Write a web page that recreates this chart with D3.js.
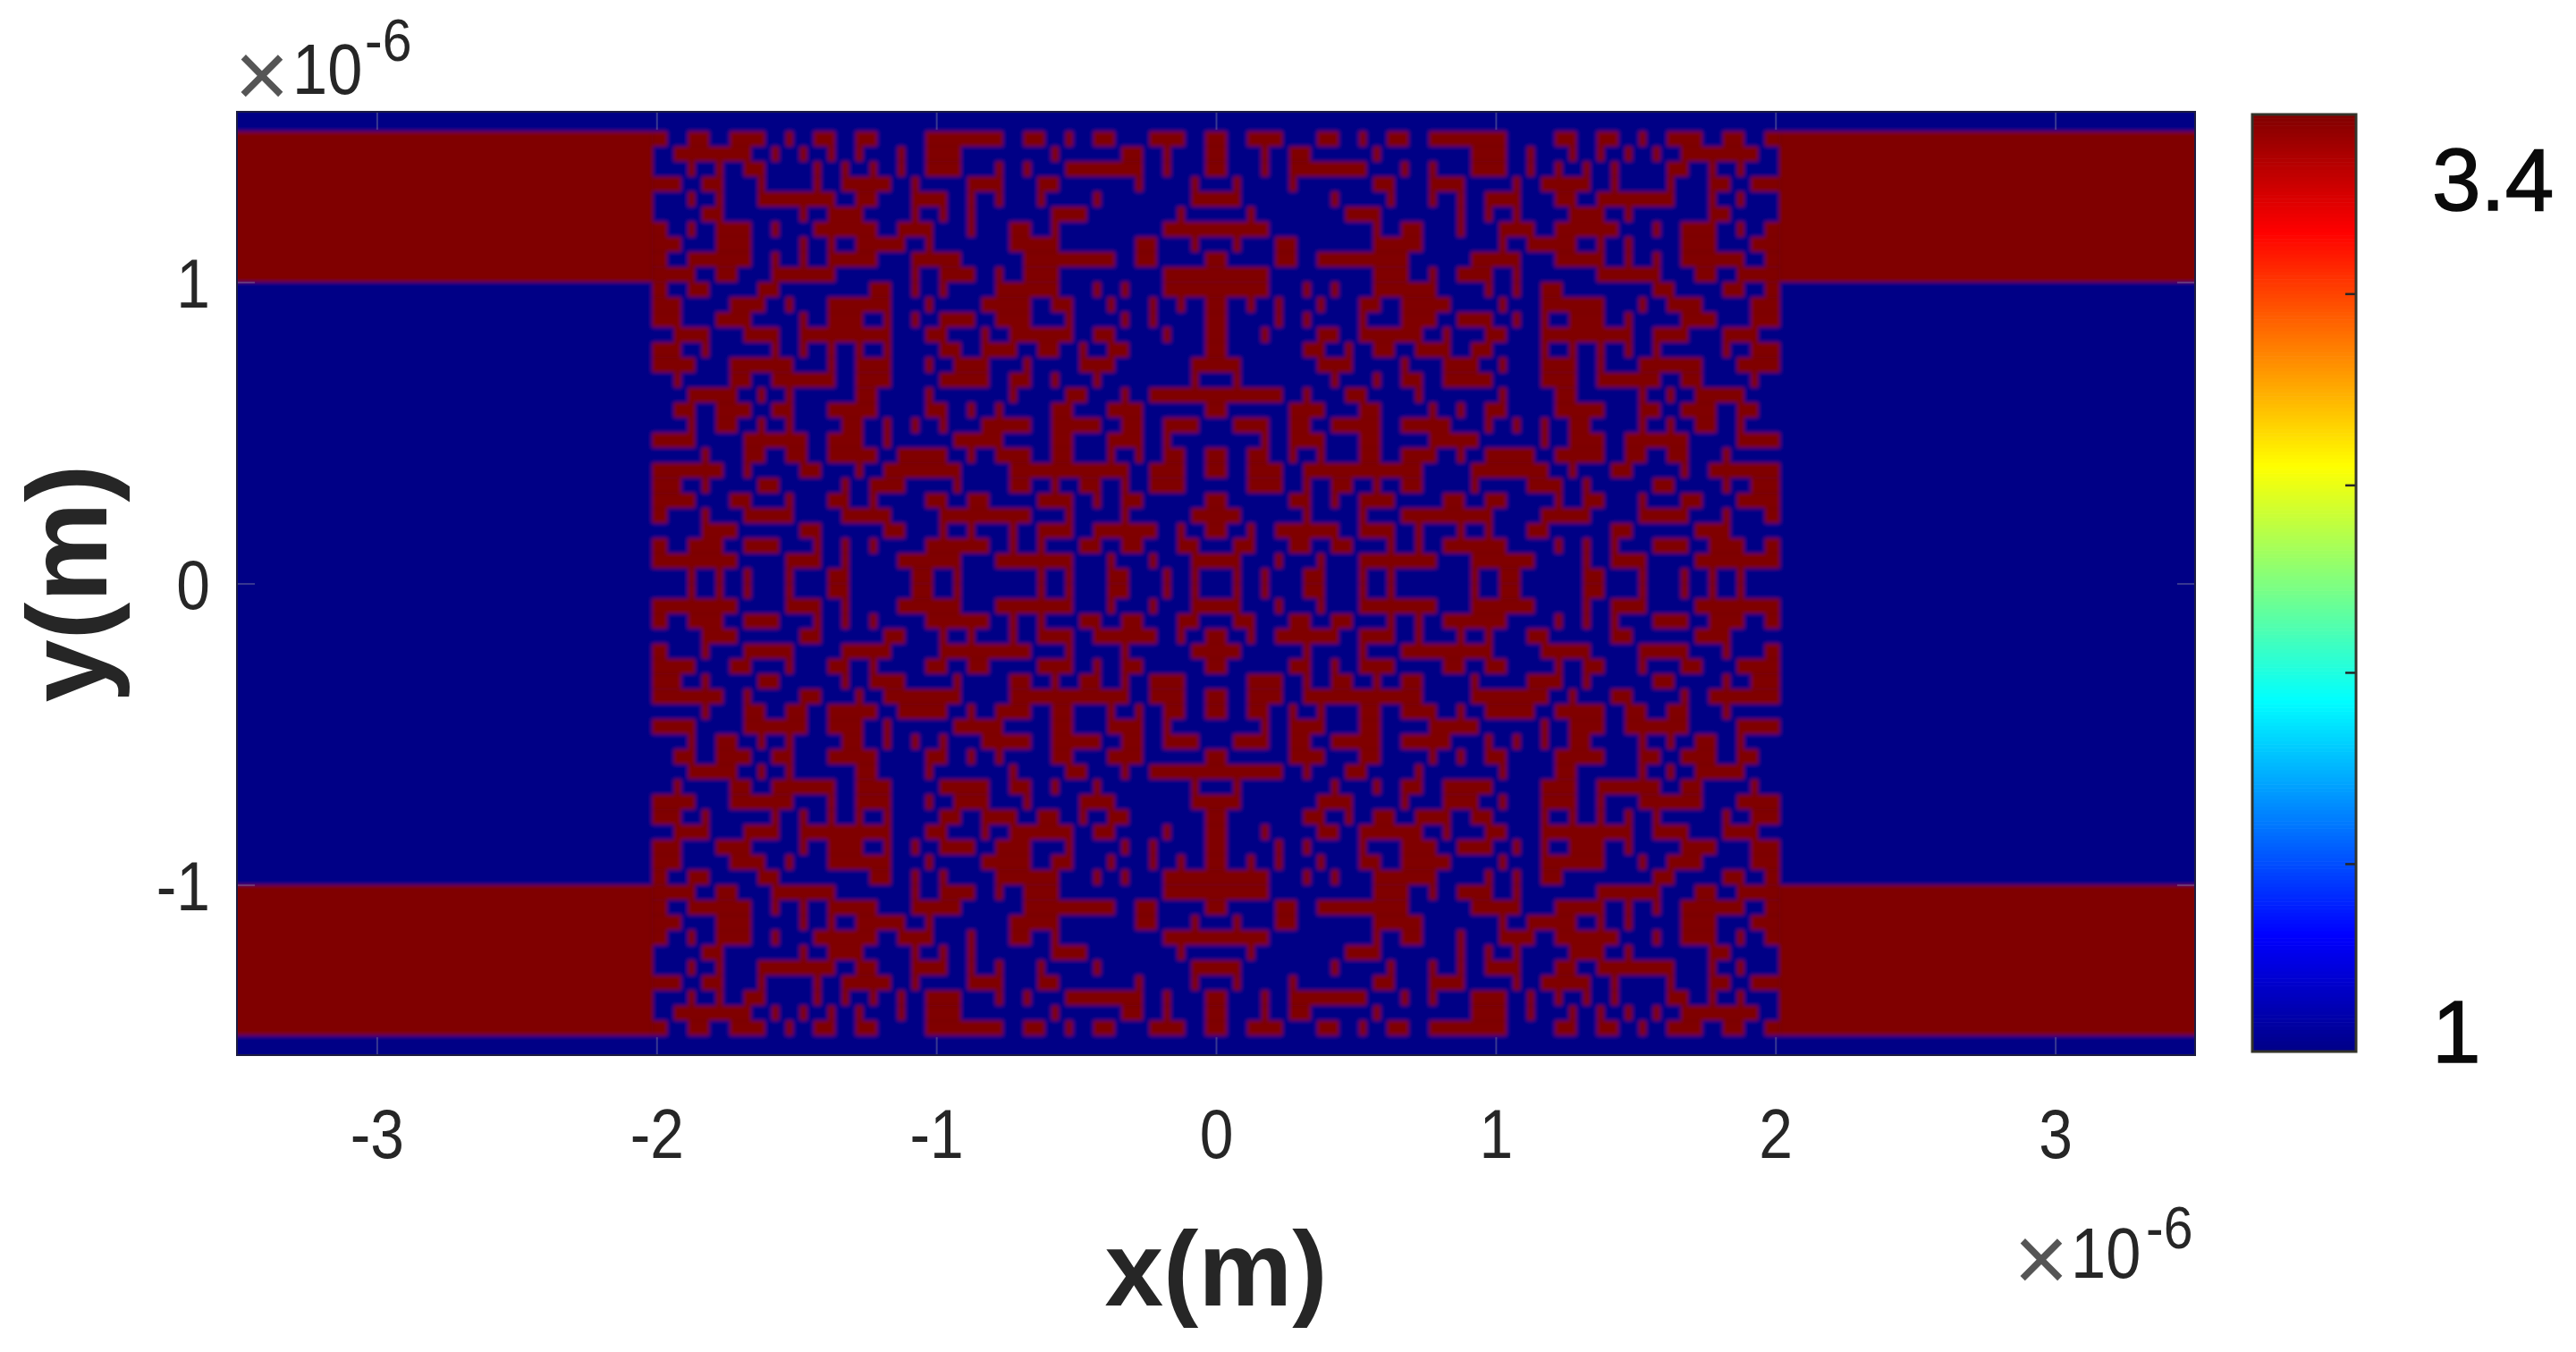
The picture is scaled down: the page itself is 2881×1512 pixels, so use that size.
<!DOCTYPE html>
<html>
<head>
<meta charset="utf-8">
<script src="https://cdnjs.cloudflare.com/ajax/libs/d3/7.8.5/d3.min.js"></script>
<style>
html,body{margin:0;padding:0;background:#fff;}
svg{display:block;}
text{font-family:"Liberation Sans",Arial,sans-serif;}
</style>
</head>
<body>
<svg id="chart" width="2881" height="1512"></svg>
<script>
// Upper-left quadrant of the symmetric pattern: for each 50 nm row (from y = 1.5 down to 0),
// the columns (0 = leftmost, 40 = just left of x = 0) where the index is high.
const highColumns = [
 [0,1,3,4,6,7,8,10,12,13,15,16,20,21,22,23,24,25,27,28,30,32,33,36,37,38,40],
 [0,2,3,4,5,6,7,9,11,13,15,18,20,21,22,29,34,35,37,40],
 [0,3,5,7,8,12,14,16,18,20,21,22,25,27,30,31,32,33,34,35,37,40],
 [0,1,2,4,5,8,12,14,15,16,17,19,23,24,25,28,29,35,39],
 [0,3,5,8,9,10,11,12,13,15,16,19,20,21,23,25,28,32,39,40],
 [0,4,5,11,13,14,15,19,21,23,29,30,31,38],
 [0,1,3,5,6,7,9,12,13,14,15,16,18,19,20,23,26,27,29,37,38,39,40],
 [0,1,2,5,6,7,11,13,15,16,17,18,20,26,27,28,29,35,36,39],
 [0,1,3,4,5,6,7,9,11,13,14,15,16,19,20,21,22,27,28,29,30,31,32,33,35,36,40],
 [0,1,2,3,5,6,9,10,11,12,13,19,21,22,23,25,27,28,29,37,38,39,40],
 [0,1,3,4,8,9,16,17,19,21,25,26,27,28,29,32,34,37,38,39,40],
 [0,1,2,6,7,8,10,13,14,15,16,17,20,24,25,26,27,29,30,33,36,38,40],
 [0,1,2,5,6,7,11,13,14,15,17,19,21,22,23,25,26,27,30,34,36,40],
 [2,3,4,7,8,9,11,12,13,14,15,16,17,20,21,24,26,27,28,29,30,32,33,37,40],
 [0,1,2,4,9,11,13,15,17,21,22,24,25,26,28,29,31,33,34,40],
 [0,1,2,3,6,7,8,9,10,13,15,16,17,20,22,23,24,27,31,32,33,39,40],
 [2,6,7,9,10,11,12,13,15,16,17,21,22,23,24,26,27,29,32,39],
 [3,4,5,6,8,10,15,16,20,26,30,31,34,36,37,38,39,40],
 [2,3,5,6,7,9,10,13,14,15,16,20,21,23,25,29,30,33,34,35,40],
 [3,5,6,8,10,14,15,17,19,21,24,25,26,27,29,30,31,32,34,35,37,38,39],
 [0,1,2,3,7,8,9,10,11,13,14,15,17,22,23,24,25,29,30,33,34,35,37],
 [4,7,8,10,11,13,14,15,16,18,19,20,21,23,25,26,27,29,30,33,35,37,38,40],
 [0,1,2,3,4,5,7,11,12,15,17,18,19,20,21,22,26,27,28,29,30,31,32,33,34,36,37,38,40],
 [0,1,2,4,8,9,14,16,17,18,22,26,27,29,31,32,34,36,37,38],
 [0,1,2,3,6,7,10,13,14,16,20,21,23,24,28,29,30,32,34,35,40],
 [0,1,4,7,8,9,10,14,15,16,17,21,22,23,24,25,26,27,30,34,39,40],
 [4,5,6,11,12,17,18,21,23,26,28,29,30,32,33,34,35,36,38,40],
 [0,1,3,4,5,7,8,9,12,14,16,20,21,22,23,24,26,28,31,32,34,35,38,39],
 [0,1,2,3,4,5,6,10,11,12,14,18,19,20,21,22,25,26,27,28,29,30,33,36,39,40],
 [3,5,7,10,13,14,19,20,22,28,30,33,34,37,39]
];
const lowIndex = 1;
const highIndex = 3.4;
const cellSize = 0.05;            // µm
const halfColumns = 41;
const patternEdge = 2.016;        // µm
const spotHalfWidth = 0.0135;     // µm
const barInner = 1;               // |y| of the waveguide bars, µm
const barOuter = 1.5;
const xLimit = 3.5;
const yLimit = 1.565;
const xTicks = [-3,-2,-1,0,1,2,3];
const yTicks = [-1,0,1];
const colorbarTicks = [1.48,1.97,2.45,2.94];
const colorbarLabels = [3.4,1];
const jetPositions = [0,.125,.375,.625,.875,1];
const jetColors = ["#000086","#0000ff","#00ffff","#ffff00","#ff0000","#800000"];

const svg = d3.select("#chart");
const X = d3.scaleLinear().domain([-xLimit,xLimit]).range([265,2455]);
const Y = d3.scaleLinear().domain([yLimit,-yLimit]).range([125,1180]);
const jet = d3.scaleLinear().domain(jetPositions).range(jetColors).interpolate(d3.interpolateRgb);
const color = d3.scaleLinear().domain([lowIndex,highIndex]).range([0,1]);
const indexColor = v => jet(color(v));
const CB = d3.scaleLinear().domain([lowIndex,highIndex]).range([1176,128]);

const defs = svg.append("defs");
defs.append("clipPath").attr("id","plotClip").append("rect")
  .attr("x",X(-xLimit)).attr("y",Y(yLimit)).attr("width",X(xLimit)-X(-xLimit)).attr("height",Y(-yLimit)-Y(yLimit));
const blur = defs.append("filter").attr("id","soft").attr("filterUnits","userSpaceOnUse")
  .attr("x",0).attr("y",0).attr("width",2881).attr("height",1512);
blur.append("feGaussianBlur").attr("stdDeviation",1.9);

// Build rectangles from the data
const runs = [];
highColumns.forEach((cols,r) => {
  const set = new Set(cols);
  const isHigh = i => set.has(i < halfColumns ? i : 2*halfColumns-1-i);
  let i = 0;
  while (i < 2*halfColumns) {
    if (isHigh(i)) {
      let j = i;
      while (j+1 < 2*halfColumns && isHigh(j+1)) j++;
      const centre = k => (k-(halfColumns-0.5))*cellSize;
      const x0 = Math.max(-patternEdge,centre(i)-spotHalfWidth);
      const x1 = Math.min(patternEdge,centre(j)+spotHalfWidth);
      if (x1 > x0) {
        [1,-1].forEach(s => {
          const ya = s*(barOuter-r*cellSize), yb = s*(barOuter-(r+1)*cellSize);
          runs.push({x0,x1,y0:Math.max(ya,yb),y1:Math.min(ya,yb)});
        });
      }
      i = j+1;
    } else i++;
  }
});
[[-xLimit-0.1,-patternEdge],[patternEdge,xLimit+0.1]].forEach(([x0,x1]) => {
  runs.push({x0,x1,y0:barOuter,y1:barInner});
  runs.push({x0,x1,y0:-barInner,y1:-barOuter});
});

const plot = svg.append("g").attr("clip-path","url(#plotClip)").append("g").attr("filter","url(#soft)");
plot.append("rect").attr("x",X(-xLimit)-40).attr("y",Y(yLimit)-10)
  .attr("width",X(xLimit)-X(-xLimit)+80).attr("height",Y(-yLimit)-Y(yLimit)+20)
  .attr("fill",indexColor(lowIndex));
plot.selectAll("rect.high").data(runs).join("rect").attr("class","high")
  .attr("x",d=>X(d.x0)).attr("width",d=>X(d.x1)-X(d.x0))
  .attr("y",d=>Y(d.y0)).attr("height",d=>Y(d.y1)-Y(d.y0))
  .attr("fill",indexColor(highIndex));

// Axes
const tickCol = "#8a8aa0", textCol = "#262626", hs = 0.88;
function styleAxis(g){
  g.select(".domain").remove();
  g.selectAll("line").attr("stroke",tickCol).attr("stroke-opacity",.4).attr("stroke-width",2);
}
const gx = svg.append("g").attr("transform",`translate(0,${Y(-yLimit)})`)
  .call(d3.axisBottom(X).tickValues(xTicks).tickSize(-20).tickPadding(0).tickFormat(d=>String(d)));
styleAxis(gx);
gx.selectAll("text").attr("font-size",77).attr("fill",textCol).attr("dy",null).attr("y",115)
  .attr("transform",`scale(${hs},1)`);
const gy = svg.append("g").attr("transform",`translate(${X(-xLimit)},0)`)
  .call(d3.axisLeft(Y).tickValues(yTicks).tickSize(-20).tickPadding(0).tickFormat(d=>String(d)));
styleAxis(gy);
gy.selectAll("text").attr("font-size",77).attr("fill",textCol).attr("dy","0.36em").attr("x",-30/hs)
  .attr("transform",`scale(${hs},1)`);
const gxT = svg.append("g").attr("transform",`translate(0,${Y(yLimit)})`)
  .call(d3.axisTop(X).tickValues(xTicks).tickSize(-20).tickFormat(""));
styleAxis(gxT);
const gyR = svg.append("g").attr("transform",`translate(${X(xLimit)},0)`)
  .call(d3.axisRight(Y).tickValues(yTicks).tickSize(-20).tickFormat(""));
styleAxis(gyR);
svg.append("rect").attr("x",X(-xLimit)).attr("y",Y(yLimit))
  .attr("width",X(xLimit)-X(-xLimit)).attr("height",Y(-yLimit)-Y(yLimit))
  .attr("fill","none").attr("stroke","#1c1c40").attr("stroke-width",2);

// Exponent labels
function exponent(xTimes,x10,xExp,base,expBase){
  const g = svg.append("g").attr("fill",textCol);
  g.append("text").attr("transform",`translate(${xTimes},${base+15})`).attr("text-anchor","middle")
    .attr("font-size",105).attr("fill","#555").text("×");
  g.append("text").attr("transform",`translate(${x10},${base}) scale(${hs},1)`).attr("font-size",80).text("10");
  g.append("text").attr("transform",`translate(${xExp},${expBase}) scale(${hs},1)`).attr("font-size",67).text("-6");
}
exponent(293,327,408,105,68);
exponent(2283,2316,2400,1429,1396);

// Axis titles
svg.append("text").attr("x",X(0)).attr("y",1460).attr("text-anchor","middle")
  .attr("font-size",118).attr("font-weight",700).attr("fill","#262626").text("x(m)");
svg.append("text").attr("transform",`translate(119,${Y(0)}) rotate(-90)`).attr("text-anchor","middle")
  .attr("font-size",126).attr("font-weight",700).attr("fill","#262626").text("y(m)");

// Colour bar
const cbX0 = 2519, cbX1 = 2635;
const cbSteps = d3.range(0,256);
const cb = svg.append("g");
cb.selectAll("rect").data(cbSteps).join("rect")
  .attr("x",cbX0).attr("width",cbX1-cbX0)
  .attr("y",d=>CB(lowIndex+(highIndex-lowIndex)*(d+1)/256))
  .attr("height",d=>CB(lowIndex+(highIndex-lowIndex)*d/256)-CB(lowIndex+(highIndex-lowIndex)*(d+1)/256)+.6)
  .attr("fill",d=>jet((d+.5)/256));
cb.selectAll("line").data(colorbarTicks).join("line")
  .attr("x1",cbX1-12).attr("x2",cbX1).attr("y1",d=>CB(d)).attr("y2",d=>CB(d))
  .attr("stroke","#262626").attr("stroke-width",2.5);
svg.append("rect").attr("x",cbX0).attr("y",CB(highIndex)).attr("width",cbX1-cbX0).attr("height",CB(lowIndex)-CB(highIndex))
  .attr("fill","none").attr("stroke","#33332a").attr("stroke-width",3);
svg.append("g").selectAll("text").data(colorbarLabels).join("text")
  .attr("x",2720).attr("y",d=>d===highIndex?235:1188)
  .attr("font-size",98).attr("fill","#0a0a0a").attr("stroke","#0a0a0a").attr("stroke-width",1.5)
  .text(d=>d);
</script>
</body>
</html>
